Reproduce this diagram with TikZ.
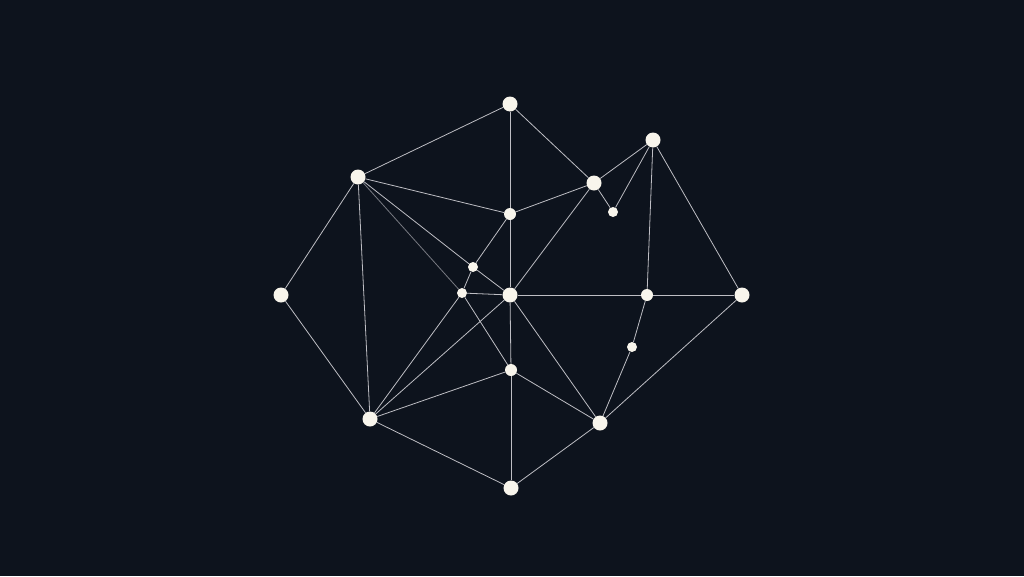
\documentclass[tikz,border=0pt]{standalone}
\usepackage{tikz}
\definecolor{bgcol}{RGB}{13,19,29}
\definecolor{dotcol}{RGB}{248,245,236}
\definecolor{linecol}{RGB}{190,190,196}
\tikzset{%
  bigdot/.style={circle, fill=dotcol, inner sep=0pt, minimum size=15pt},
  middot/.style={circle, fill=dotcol, inner sep=0pt, minimum size=12pt},
  smalldot/.style={circle, fill=dotcol, inner sep=0pt, minimum size=10pt},
  wire/.style={draw=linecol, line width=0.8pt}
}

\begin{document}
\begin{tikzpicture}[x=1pt, y=-1pt]

    % background, sets the size of the page
    \fill[bgcol] (0,0) rectangle (1024,576);
    \useasboundingbox (0,0) rectangle (1024,576);

    % outer ring of nodes
    \node[bigdot] (T)  at (510,104) {};
    \node[bigdot] (UL) at (358,177) {};
    \node[bigdot] (UR) at (653,140) {};
    \node[bigdot] (L)  at (281,295) {};
    \node[bigdot] (R)  at (742,295) {};
    \node[bigdot] (LL) at (370,419) {};
    \node[bigdot] (LR) at (600,423) {};
    \node[bigdot] (B)  at (511,488) {};

    % inner nodes
    \node[bigdot]   (M1) at (594,183) {};
    \node[smalldot] (M2) at (613,212) {};
    \node[middot]   (C1) at (510,214) {};
    \node[smalldot] (S1) at (473,267) {};
    \node[smalldot] (S2) at (462,293) {};
    \node[bigdot]   (C)  at (510,295) {};
    \node[middot]   (RM) at (647,295) {};
    \node[smalldot] (S3) at (632,347) {};
    \node[middot]   (LM) at (511,370) {};

    % outer edges
    \draw[wire] (T) -- (UL);
    \draw[wire] (T) -- (M1);
    \draw[wire] (UL) -- (L);
    \draw[wire] (L) -- (LL);
    \draw[wire] (LL) -- (B);
    \draw[wire] (B) -- (LR);
    \draw[wire] (LR) -- (R);
    \draw[wire] (R) -- (UR);
    \draw[wire] (UR) -- (M1);

    % vertical axis
    \draw[wire] (T) -- (C1);
    \draw[wire] (C1) -- (C);
    \draw[wire] (C) -- (LM);
    \draw[wire] (LM) -- (B);

    % horizontal axis
    \draw[wire] (S2) -- (C);
    \draw[wire] (C) -- (RM);
    \draw[wire] (RM) -- (R);

    % spokes from upper left
    \draw[wire] (UL) -- (C1);
    \draw[wire] (UL) -- (LL);
    \draw[wire] (UL) -- (S1);
    \draw[wire, draw opacity=0.6] (UL) -- (S2);

    % middle web
    \draw[wire] (C1) -- (M1);
    \draw[wire] (C1) -- (S1);
    \draw[wire] (S1) -- (S2);
    \draw[wire] (S1) -- (C);
    \draw[wire] (S2) -- (LM);
    \draw[wire] (C) -- (M1);
    \draw[wire] (M1) -- (M2);
    \draw[wire] (M2) -- (UR);
    \draw[wire] (UR) -- (RM);
    \draw[wire] (RM) -- (S3);
    \draw[wire] (S3) -- (LR);

    % spokes into the lower nodes
    \draw[wire] (LL) -- (S2);
    \draw[wire] (LL) -- (C);
    \draw[wire] (LL) -- (LM);
    \draw[wire] (C) -- (LR);
    \draw[wire] (LM) -- (LR);

\end{tikzpicture}
\end{document}
